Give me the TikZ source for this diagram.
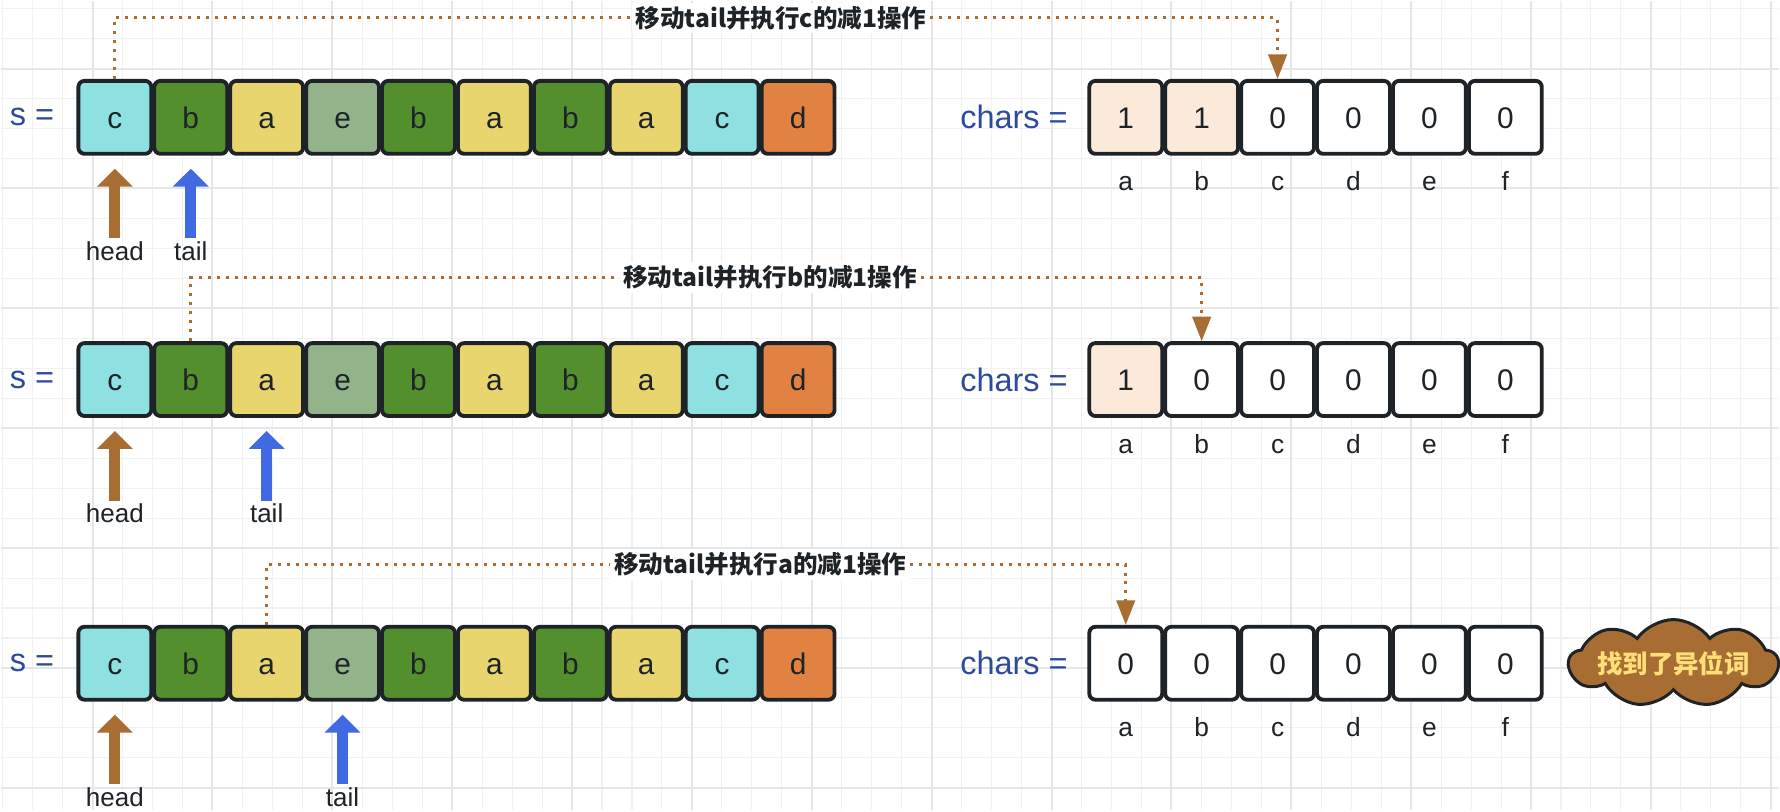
\documentclass[tikz,border=0pt]{standalone}
\usepackage{fontspec}
\setmainfont{Liberation Sans}
\newfontfamily\cjk{Noto Sans CJK SC}
\usetikzlibrary{positioning, arrows.meta, shapes.symbols}
\definecolor{gdCyan}{RGB}{143,224,225}
\definecolor{gdGreen}{RGB}{84,143,46}
\definecolor{gdYellow}{RGB}{232,213,110}
\definecolor{gdSage}{RGB}{147,180,138}
\definecolor{gdOrange}{RGB}{226,130,66}
\definecolor{gdPeach}{RGB}{251,234,218}
\definecolor{gdInk}{RGB}{30,35,40}
\definecolor{gdNavy}{RGB}{46,74,158}
\definecolor{gdBrown}{RGB}{168,109,50}
\definecolor{gdRoyal}{RGB}{65,105,225}
\definecolor{gdGold}{RGB}{255,224,120}
\definecolor{gdGridA}{RGB}{241,241,242}
\definecolor{gdGridB}{RGB}{229,230,232}
\colorlet{letc}{gdCyan}
\colorlet{letb}{gdGreen}
\colorlet{leta}{gdYellow}
\colorlet{lete}{gdSage}
\colorlet{letd}{gdOrange}

\begin{document}
\begin{tikzpicture}[
        x=0.02cm, y=-0.02cm,
        cell/.style={draw=gdInk, line width=2.2pt, rounded corners=3.5pt, minimum width=1.46cm, minimum height=1.46cm, inner sep=0pt, text height=13pt, text depth=0pt, text=gdInk, font=\fontsize{17}{20}\selectfont},
        eqlbl/.style={inner sep=0pt, text=gdNavy, font=\fontsize{18.5}{22}\selectfont},
        idx/.style={anchor=base, inner sep=0pt, text=gdInk, font=\fontsize{15}{18}\selectfont},
        ptrlbl/.style={anchor=base, inner sep=1.5pt, text=gdInk, font=\fontsize{14.8}{18}\selectfont},
        headptr/.style={line width=6.2pt, gdBrown, shorten >=7.4pt, -{Triangle[length=10.2pt, width=19.8pt]}},
        tailptr/.style={headptr, gdRoyal},
        note/.style={fill=white, inner sep=2pt, text=gdInk, font=\cjk\bfseries\fontsize{14}{16}\selectfont},
        hint/.style={gdBrown, line width=1.7pt, dash pattern=on 1.7pt off 3.4pt},
        bubble/.style={cloud, cloud puffs=9, cloud puff arc=110, cloud ignores aspect, draw=gdInk, line width=1.7pt, fill=gdBrown, text=gdGold, minimum width=4.0cm, minimum height=1.75cm, inner sep=0pt, font=\cjk\bfseries\fontsize{14.5}{17}\selectfont},
        gridfine/.style={gdGridA, line width=0.6pt},
        gridbold/.style={gdGridB, line width=1.1pt}
      ]
        % background grid
        \fill[white] (0,0) rectangle (1780,810);
        \foreach \g in {0,...,59} \draw[gridfine] (1.7+30*\g,0) -- ++(0,810);
        \foreach \g in {0,...,26} \draw[gridfine] (0,7.7+30*\g) -- ++(1780,0);
        \foreach \g in {0,...,14} \draw[gridbold] (91.7+120*\g,0) -- ++(0,810);
        \foreach \g in {0,...,6} \draw[gridbold] (0,67.7+120*\g) -- ++(1780,0);
        \useasboundingbox (0,0) rectangle (1780,810);

        \foreach \r/\y/\src/\tps/\dst/\ones/\lt/\lx/\ly in {1/116.5/1/2/3/2/c/781/17, 2/379/2/3/2/1/b/770/277, 3/663/3/4/1/0/a/760/564} {
          % the string s
          \foreach \ch [count=\i] in {c,b,a,e,b,a,b,a,c,d}
            \node[cell, fill=let\ch] (s\r-\i) at (38+76*\i,\y) {\ch};
          \node[eqlbl, left=12.5pt of s\r-1] (sl\r) {s =};

          % the counts
          \foreach \ch [count=\j] in {a,b,c,d,e,f} {
            \ifnum\j>\ones \def\val{0}\def\bg{white}\else\def\val{1}\def\bg{gdPeach}\fi
            \node[cell, fill=\bg] (c\r-\j) at (1050+76*\j,\y) {\val};
            \node[idx] (ci\r-\j) at ([yshift=-20pt]c\r-\j.south) {\ch};
          }
          \node[eqlbl, left=11pt of c\r-1] (cl\r) {chars =};

          % pointers
          \node[ptrlbl] (hd\r) at ([yshift=-59.5pt]s\r-1.south) {head};
          \node[ptrlbl] (tl\r) at ([yshift=-59.5pt]s\r-\tps.south) {tail};
          \draw[headptr] (hd\r.north) -- (s\r-1.south);
          \draw[tailptr] (tl\r.north) -- (s\r-\tps.south);

          % step note
          \node[note] (m\r) at (\lx,\ly) {移动tail并执行\lt 的减1操作};
          \draw[hint] (s\r-\src.north) |- (m\r.west);
          \draw[hint, -{Triangle[length=14pt, width=10.5pt]}] (m\r.east) -| (c\r-\dst.north);
        }

        \node[bubble, right=13pt of c3-6] (found) {找到了异位词};
      \end{tikzpicture}
\end{document}
